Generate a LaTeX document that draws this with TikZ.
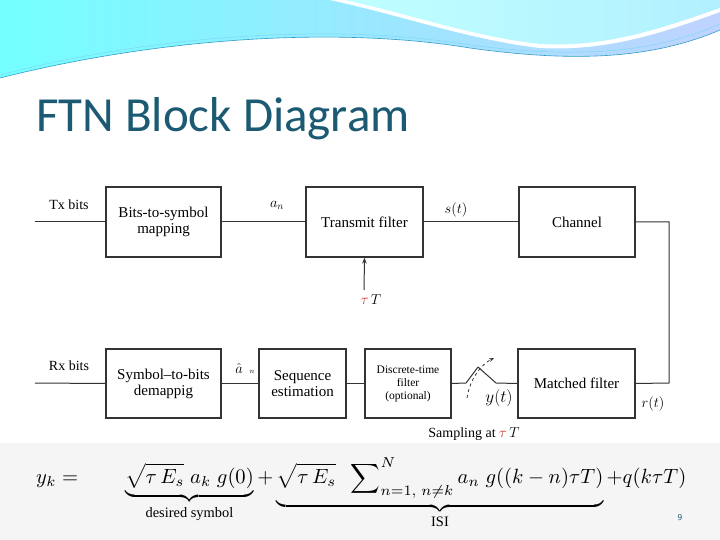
\documentclass[tikz,border=0pt]{standalone}
\usepackage{fontspec}
\usepackage{amsmath}
\usepackage{graphicx}
\setmainfont{Liberation Serif}
\newfontfamily\titlefont{Carlito}
\usetikzlibrary{arrows.meta}
\definecolor{titleblue}{HTML}{1B5A72}
\definecolor{tred}{HTML}{D02020}
\begin{document}
\begin{tikzpicture}[x=1pt,y=-1pt,
  blk/.style={draw=black!80,line width=1.2pt,inner sep=0pt,font=\fontsize{15}{16}\selectfont,align=center},
  wire/.style={draw=black!80,line width=1pt},
  lbl/.style={font=\fontsize{14}{15}\selectfont,inner sep=1pt}]
\useasboundingbox (0,0) rectangle (720,540);
\fill[white] (0,0) rectangle (720,540);
% banner
\shade[left color=cyan!55!white, right color=cyan!30!blue!25!white]
  (0,0) -- (720,0) -- (720,30) .. controls (650,60) and (570,62) .. (470,48)
  .. controls (330,25) and (150,40) .. (0,78) -- cycle;
\fill[white] (330,0) .. controls (400,15) and (470,40) .. (540,48) .. controls (610,52) and (670,30) .. (720,12)
  -- (720,0) -- cycle;
\shade[left color=cyan!25!white, right color=blue!20!cyan!30!white]
  (345,0) .. controls (410,14) and (470,36) .. (540,44) .. controls (610,48) and (670,25) .. (720,8) -- (720,0) -- cycle;
\fill[white] (0,78) .. controls (150,40) and (330,25) .. (470,48) .. controls (570,62) and (650,60) .. (720,30)
  -- (720,40) .. controls (650,70) and (560,80) .. (480,65) .. controls (350,45) and (150,50) .. (0,90) -- cycle;
\draw[cyan!60!teal,line width=0.6pt] (0,78) .. controls (150,40) and (330,25) .. (470,48) .. controls (570,62) and (650,60) .. (720,30);
\draw[cyan!50,line width=0.5pt] (0,75) .. controls (150,36) and (330,22) .. (470,45) .. controls (570,58) and (650,55) .. (720,24);
\node[anchor=base west,inner sep=0pt,text=titleblue,font=\titlefont\fontsize{49}{49}\selectfont] (title) at (36,132) {FTN Block Diagram};
% equation band
\fill[black!4] (0,443) rectangle (720,540);
% boxes
\node[blk,minimum width=115pt,minimum height=70pt] (b2s) at (163.5,222) {Bits-to-symbol\\mapping};
\node[blk,minimum width=117pt,minimum height=70pt] (tx) at (364.5,222) {Transmit filter};
\node[blk,minimum width=116pt,minimum height=70pt] (ch) at (577,222) {Channel};
\node[blk,minimum width=115pt,minimum height=69pt] (s2b) at (163.5,383.5) {Symbol--to-bits\\demappig};
\node[blk,minimum width=87pt,minimum height=69pt] (seq) at (302.5,383.5) {Sequence\\estimation};
\node[blk,minimum width=86pt,minimum height=69pt,font=\fontsize{11.5}{13}\selectfont] (dtf) at (408,383.5) {Discrete-time\\filter\\(optional)};
\node[blk,minimum width=117pt,minimum height=69pt] (mf) at (576.5,383.5) {Matched filter};
% coordinates
\coordinate (txin) at (35,222);
\coordinate (rxout) at (35,383);
\coordinate (c1) at (669,222);
\coordinate (c2) at (669,383);
\coordinate (tauT) at (364,290);
\coordinate (sw1) at (466,383);
\coordinate (sw2) at (478,367);
\coordinate (sw3) at (496,383);
% wires
\draw[wire] (txin) -- (b2s.west);
\draw[wire] (b2s.east) -- (tx.west);
\draw[wire] (tx.east) -- (ch.west);
\draw[wire] (ch.east) -- (c1) -- (c2) -- (mf.east);
\draw[wire] (mf.west) -- (sw3) -- (sw2);
\draw[wire] (dtf.east) -- (sw1) -- (sw2);
\draw[wire] (dtf.west) -- (seq.east);
\draw[wire] (seq.west) -- (s2b.west -| s2b.east);
\draw[wire] (s2b.west) -- (rxout);
\draw[wire,-{Stealth[length=6pt]}] (tauT) -- (tx.south);
\draw[black!80,line width=0.8pt,dashed,-{Stealth[length=5pt]}] (467,398) .. controls (470,378) and (482,364) .. (494,358);
% labels
\node[lbl] (ltx) at (69,205) {Tx bits};
\node[lbl] (lrx) at (69,366) {Rx bits};
\node[lbl] (lan) at (277,205) {$a_n$};
\node[lbl] (lst) at (456,210) {$s(t)$};
\node[lbl] (lah) at (245,368) {$\hat{a}$\ \ \scriptsize$n$};
\node[lbl,font=\fontsize{17}{17}\selectfont] (lyt) at (499,398) {$y(t)$};
\node[lbl] (lrt) at (653,404) {$r(t)$};
\node[lbl] (ltau) at (371,300) {$\textcolor{tred}{\tau}\,T$};
\node[lbl] (lsamp) at (474,434) {Sampling at $\textcolor{tred}{\tau}\,T$};
% equation
\node[anchor=north west,inner sep=0pt] (eq) at (36,457)
  {\resizebox{650pt}{!}{$\displaystyle y_k=\qquad\underbrace{\sqrt{\tau\,E_s}\;a_k\;g(0)}_{\text{desired symbol}}
   +\underbrace{\sqrt{\tau\,E_s}\;\;\sum\nolimits_{n=1,\;n\neq k}^{N}a_n\;g((k-n)\tau T)}_{\text{ISI}}+q(k\tau T)$}};
\node[text=titleblue,font=\fontsize{9}{9}\sffamily] (pg) at (680,518) {9};
\end{tikzpicture}
\end{document}
